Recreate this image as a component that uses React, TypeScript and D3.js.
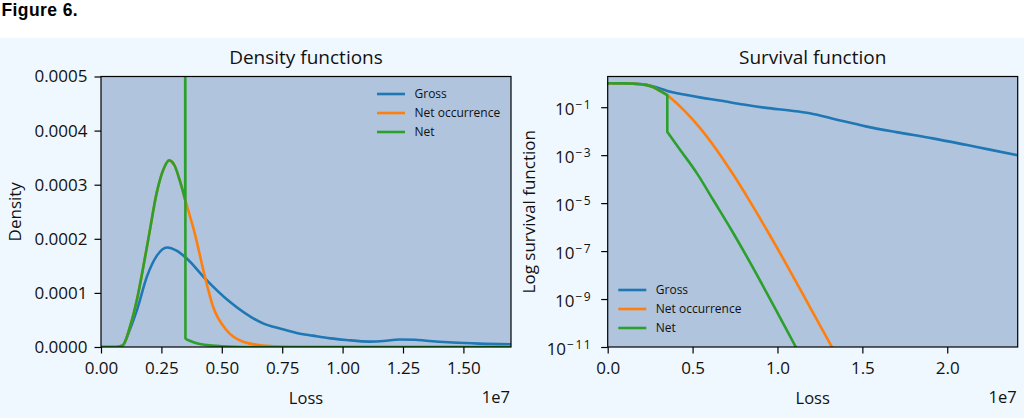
import { useEffect, useRef } from "react";
import * as d3 from "d3";

const W = 1024;
const H = 418;
const FONT = "'Open Sans', 'Noto Sans', sans-serif";

const SERIES = ["Gross", "Net occurrence", "Net"];
const COLORS = ["#1f77b4", "#ff7f0e", "#2ca02c"];

// Density panel: loss in units of 1e7, density in units of 1e-4
const grossDensX = [0, 0.065, 0.09, 0.12, 0.15, 0.19, 0.23, 0.274, 0.313, 0.354, 0.43, 0.533, 0.671, 0.74, 0.81, 0.877, 0.95, 1.015, 1.11, 1.17, 1.235, 1.3, 1.346, 1.456, 1.566, 1.697];
const grossDensY = [0, 0, 0.03, 0.33, 0.7, 1.3, 1.68, 1.84, 1.78, 1.64, 1.27, 0.836, 0.437, 0.34, 0.26, 0.21, 0.16, 0.13, 0.1, 0.11, 0.14, 0.135, 0.116, 0.082, 0.062, 0.05];

const netOccDensX = [0, 0.065, 0.09, 0.12, 0.15, 0.175, 0.2, 0.23, 0.26, 0.282, 0.305, 0.326, 0.3485, 0.388, 0.43, 0.464, 0.519, 0.588, 0.685, 0.75, 0.85, 1.0, 1.697];
const netOccDensY = [0, 0, 0.03, 0.375, 0.9, 1.48, 2.1, 2.84, 3.3, 3.45, 3.35, 3.08, 2.72, 2.1, 1.3, 0.744, 0.314, 0.098, 0.02, 0.005, 0, 0, 0];

// the retention point carries a spike that runs off the top of the axes
const netDensX = [0, 0.065, 0.09, 0.12, 0.15, 0.175, 0.2, 0.23, 0.26, 0.282, 0.305, 0.326, 0.3485, 0.3485, 0.3495, 0.37, 0.4, 0.44, 0.5, 0.55, 0.62, 0.7, 1.697];
const netDensY = [0, 0, 0.03, 0.375, 0.9, 1.48, 2.1, 2.84, 3.3, 3.45, 3.35, 3.08, 2.72, 12, 0.16, 0.11, 0.065, 0.035, 0.015, 0.006, 0.001, 0, 0];

// Survival panel: loss in units of 1e7, survival as log10 exponent
const grossSurvX = [0, 0.1, 0.19, 0.229, 0.27, 0.308, 0.351, 0.45, 0.55, 0.66, 0.8, 0.935, 1.06, 1.19, 1.35, 1.52, 1.7, 1.915, 2.11, 2.25, 2.415];
const grossSurvLog = [0, -0.005, -0.03, -0.07, -0.14, -0.22, -0.32, -0.47, -0.6, -0.72, -0.89, -1.03, -1.13, -1.25, -1.52, -1.8, -2.04, -2.3, -2.57, -2.77, -3.0];

const netOccSurvX = [0, 0.1, 0.19, 0.229, 0.27, 0.308, 0.351, 0.4, 0.45, 0.543, 0.641, 0.73, 0.827, 0.945, 1.072, 1.2, 1.324, 1.36];
const netOccSurvLog = [0, -0.005, -0.04, -0.08, -0.17, -0.32, -0.5, -0.794, -1.134, -1.86, -2.77, -3.705, -4.8, -6.215, -7.8, -9.45, -11.04, -11.5];

const netSurvX = [0, 0.1, 0.19, 0.229, 0.27, 0.308, 0.351, 0.351, 0.425, 0.524, 0.621, 0.729, 0.835, 0.935, 1.02, 1.108, 1.15];
const netSurvLog = [0, -0.005, -0.04, -0.08, -0.17, -0.32, -0.5, -2.03, -2.76, -3.74, -4.86, -6.12, -7.43, -8.72, -9.84, -11, -11.55];

const densXTicks = [0, 0.25, 0.5, 0.75, 1.0, 1.25, 1.5];
const densYTicks = [0, 0.0001, 0.0002, 0.0003, 0.0004, 0.0005];
const survXTicks = [0, 0.5, 1.0, 1.5, 2.0];
const survYExp = [-1, -3, -5, -7, -9, -11];

type Pt = [number, number];

// monotone runs, joined by straight segments where x steps back (vertical jumps)
function runsPath(pts: Pt[], line: d3.Line<Pt>) {
  const runs: Pt[][] = [];
  let cur: Pt[] = [pts[0]];
  for (let i = 1; i < pts.length; i++) {
    if (pts[i][0] <= pts[i - 1][0]) {
      runs.push(cur);
      cur = [];
    }
    cur.push(pts[i]);
  }
  runs.push(cur);
  return runs
    .map((r, i) => {
      const d = line(r) ?? "";
      return i === 0 ? d : "L" + d.slice(1);
    })
    .join("");
}

function styleAxis(g: d3.Selection<SVGGElement, unknown, null, undefined>) {
  g.attr("font-family", FONT).attr("font-size", 17);
  g.select(".domain").remove();
  g.selectAll(".tick line").attr("stroke", "#000").attr("stroke-width", 1.2);
  g.selectAll(".tick text").attr("fill", "#111");
}

export default function App() {
  const svgRef = useRef<SVGSVGElement>(null);

  useEffect(() => {
    if (!svgRef.current) return;
    const svg = d3.select(svgRef.current);
    svg.selectAll("*").remove();

    svg.append("rect").attr("width", W).attr("height", H).attr("fill", "#fff");
    svg.append("rect").attr("y", 38).attr("width", W).attr("height", H - 38).attr("fill", "#f0f8ff");

    svg.append("text")
      .attr("x", 1.5).attr("y", 16)
      .attr("font-family", "'Liberation Sans', Arial, sans-serif")
      .attr("font-weight", 700).attr("font-size", 17.5).attr("letter-spacing", 0.4)
      .attr("fill", "#000")
      .text("Figure 6.");

    const top = 76.5;
    const bottom = 347;

    const panels = [
      {
        id: "dens",
        left: 101,
        right: 511,
        title: "Density functions",
        ylabel: "Density",
        ylabelX: 21,
        x: d3.scaleLinear().domain([0, 1.697]).range([101, 511]),
        y: d3.scaleLinear().domain([0, 0.0005]).range([bottom, top]),
        series: [
          grossDensX.map((x, i) => [x, grossDensY[i] * 1e-4] as Pt),
          netOccDensX.map((x, i) => [x, netOccDensY[i] * 1e-4] as Pt),
          netDensX.map((x, i) => [x, netDensY[i] * 1e-4] as Pt),
        ],
        legend: { x: 377, y: 94 },
      },
      {
        id: "surv",
        left: 607.7,
        right: 1017.7,
        title: "Survival function",
        ylabel: "Log survival function",
        ylabelX: 535,
        x: d3.scaleLinear().domain([0, 2.415]).range([607.7, 1017.7]),
        y: d3.scaleLog().domain([1e-11, Math.pow(10, 0.28)]).range([bottom, top]),
        series: [
          grossSurvX.map((x, i) => [x, Math.pow(10, grossSurvLog[i])] as Pt),
          netOccSurvX.map((x, i) => [x, Math.pow(10, netOccSurvLog[i])] as Pt),
          netSurvX.map((x, i) => [x, Math.pow(10, netSurvLog[i])] as Pt),
        ],
        legend: { x: 618.3, y: 290 },
      },
    ];

    panels.forEach((p) => {
      const g = svg.append("g");
      const w = p.right - p.left;
      const h = bottom - top;

      g.append("clipPath").attr("id", `clip-${p.id}`)
        .append("rect").attr("x", p.left).attr("y", top).attr("width", w).attr("height", h);

      g.append("rect")
        .attr("x", p.left).attr("y", top).attr("width", w).attr("height", h)
        .attr("fill", "#b0c4de");

      const line = d3.line<Pt>()
        .x((d) => p.x(d[0]))
        .y((d) => p.y(d[1]))
        .curve(d3.curveMonotoneX);

      const plot = g.append("g").attr("clip-path", `url(#clip-${p.id})`);
      p.series.forEach((pts, i) => {
        plot.append("path")
          .attr("d", runsPath(pts, line))
          .attr("fill", "none")
          .attr("stroke", COLORS[i])
          .attr("stroke-width", 2.6)
          .attr("stroke-linejoin", "round")
          .attr("stroke-linecap", "square");
      });

      // x axis
      const xAxis = d3.axisBottom(p.x)
        .tickValues(p.id === "dens" ? densXTicks : survXTicks)
        .tickFormat((d) => d3.format(p.id === "dens" ? ".2f" : ".1f")(d as number))
        .tickSize(6.5)
        .tickPadding(8)
        .tickSizeOuter(0);
      const gx = g.append("g").attr("transform", `translate(0,${bottom})`).call(xAxis);
      styleAxis(gx);

      // y axis
      if (p.id === "dens") {
        const yAxis = d3.axisLeft(p.y as d3.ScaleLinear<number, number>)
          .tickValues(densYTicks)
          .tickFormat((d) => d3.format(".4f")(d as number))
          .tickSize(6.5)
          .tickPadding(7)
          .tickSizeOuter(0);
        const gy = g.append("g").attr("transform", `translate(${p.left},0)`).call(yAxis);
        styleAxis(gy);
      } else {
        const yAxis = d3.axisLeft(p.y as d3.ScaleLogarithmic<number, number>)
          .tickValues(survYExp.map((e) => Math.pow(10, e)))
          .tickFormat(() => "")
          .tickSize(6.5)
          .tickPadding(9)
          .tickSizeOuter(0);
        const gy = g.append("g").attr("transform", `translate(${p.left},0)`).call(yAxis);
        styleAxis(gy);
        gy.selectAll<SVGTextElement, number>(".tick text").each(function (d) {
          const t = d3.select(this);
          const e = Math.round(Math.log10(d));
          t.attr("dy", "0.42em");
          t.append("tspan").text("10");
          t.append("tspan")
            .attr("dy", "-0.5em")
            .attr("dx", 1)
            .attr("font-size", 12)
            .attr("letter-spacing", 1.5)
            .text(`\u2212${-e}`);
        });
      }

      // spines
      g.append("rect")
        .attr("x", p.left).attr("y", top).attr("width", w).attr("height", h)
        .attr("fill", "none").attr("stroke", "#000").attr("stroke-width", 1.2);

      // title + labels
      const cx = (p.left + p.right) / 2;
      g.append("text")
        .attr("x", cx).attr("y", 64)
        .attr("text-anchor", "middle")
        .attr("font-family", FONT).attr("font-size", 19).attr("fill", "#111")
        .text(p.title);
      g.append("text")
        .attr("x", cx).attr("y", 403.5)
        .attr("text-anchor", "middle")
        .attr("font-family", FONT).attr("font-size", 16.5).attr("fill", "#111")
        .text("Loss");
      g.append("text")
        .attr("x", p.right - 1).attr("y", 402.5)
        .attr("text-anchor", "end")
        .attr("font-family", FONT).attr("font-size", 16.5).attr("fill", "#111")
        .text("1e7");
      g.append("text")
        .attr("transform", `translate(${p.ylabelX},${(top + bottom) / 2}) rotate(-90)`)
        .attr("text-anchor", "middle")
        .attr("font-family", FONT).attr("font-size", 17).attr("fill", "#111")
        .text(p.ylabel);

      // legend
      const lg = g.append("g").attr("transform", `translate(${p.legend.x},${p.legend.y})`);
      SERIES.forEach((name, i) => {
        const row = lg.append("g").attr("transform", `translate(0,${i * 19})`);
        row.append("line")
          .attr("x1", 0).attr("x2", 28).attr("y1", 0).attr("y2", 0)
          .attr("stroke", COLORS[i]).attr("stroke-width", 2.6);
        row.append("text")
          .attr("x", 37.5).attr("y", 0).attr("dy", "0.36em")
          .attr("font-family", FONT).attr("font-size", 12).attr("fill", "#111")
          .text(name);
      });
    });
  }, []);

  return (
    <div style={{ position: "absolute", left: 0, top: 0 }}>
      <svg ref={svgRef} width={W} height={H} style={{ display: "block" }} />
    </div>
  );
}
